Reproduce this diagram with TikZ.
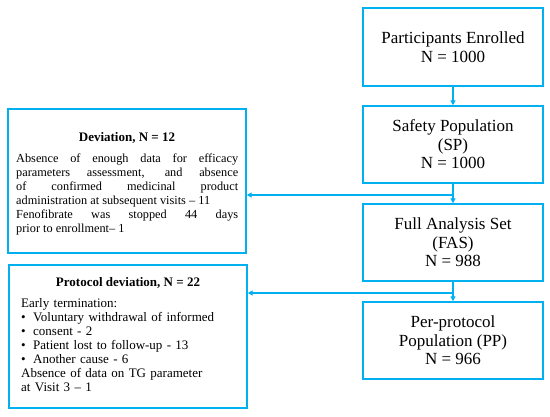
\documentclass[tikz,border=0pt]{standalone}
\usepackage{fontspec}
\setmainfont{Liberation Serif}
\usetikzlibrary{arrows.meta,calc}
\definecolor{lineblue}{RGB}{0,176,240}
\tikzset{
  bigbox/.style={draw=lineblue,line width=1.4pt,minimum width=180pt,minimum height=77pt,align=center,inner sep=0pt,
    font=\fontsize{17}{18.5}\selectfont},
  sidebox/.style={draw=lineblue,line width=1.4pt,minimum width=238pt,inner sep=0pt},
  smalltext/.style={inner sep=0pt,font=\fontsize{13}{14}\selectfont},
  flow/.style={draw=lineblue,line width=1.4pt,-{Triangle[width=5pt,length=5pt]}}
}
\newcommand{\bul}{\makebox[12pt][l]{•}}
\begin{document}
\begin{tikzpicture}[x=1pt,y=-1pt]
\useasboundingbox (0,0) rectangle (550,417);
\node[bigbox,minimum height=78pt] (enr) at (453,47) {Participants Enrolled\\N = 1000};
\node[bigbox] (sp) at (453,144.5) {Safety Population\\(SP)\\N = 1000};
\node[bigbox] (fas) at (453,242.5) {Full Analysis Set\\(FAS)\\N = 988};
\node[bigbox] (pp) at (453,340.5) {Per-protocol\\Population (PP)\\N = 966};
\node[sidebox,minimum height=144pt] (dev) at (127,181) {};
\node[smalltext,anchor=base,font=\fontsize{13}{14}\selectfont\bfseries] (devtitle) at (127,142) {Deviation, N = 12};
\node[smalltext,anchor=north west,text width=222pt,align=justify,font=\fontsize{12.3}{14}\selectfont] (devtxt) at (16,153.5)
{Absence of enough data for efficacy\linebreak parameters assessment, and absence\linebreak of confirmed medicinal product\linebreak administration at subsequent visits -- 11\\ Fenofibrate was stopped 44 days\linebreak prior to enrollment-- 1};
\node[sidebox,minimum height=143pt] (prot) at (128,336.5) {};
\node[smalltext,anchor=base,font=\fontsize{13}{14}\selectfont\bfseries] (prottitle) at (128,287) {Protocol deviation, N = 22};
\node[smalltext,anchor=north west,text width=214pt,align=left] (prottxt) at (21,298)
{Early termination:\\
\bul Voluntary withdrawal of informed\\
\bul consent - 2\\
\bul Patient lost to follow-up - 13\\
\bul Another cause - 6\\
Absence of data on TG parameter\\
at Visit 3 -- 1};
\coordinate (b1) at (453,195);
\coordinate (b2) at (453,293);
\draw[flow] (enr.south) -- (sp.north);
\draw[flow] (sp.south) -- (fas.north);
\draw[flow] (b1) -- (b1 -| dev.east);
\draw[flow] (fas.south) -- (pp.north);
\draw[flow] (b2) -- (b2 -| prot.east);
\end{tikzpicture}
\end{document}
